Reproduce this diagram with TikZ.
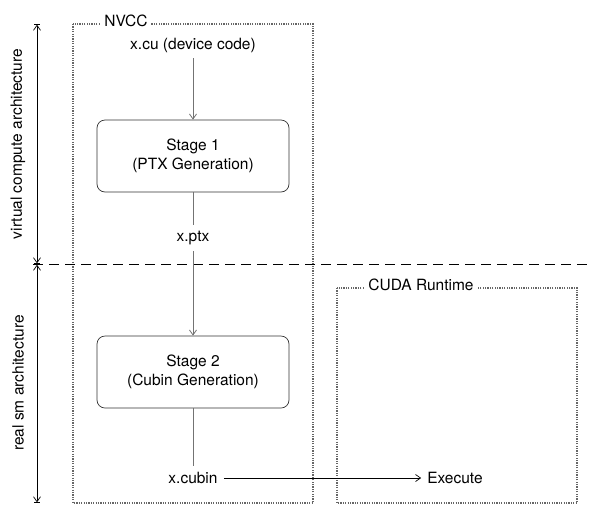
\documentclass[tikz,border=0pt]{standalone}
\usepackage{fontspec}
\setmainfont{TeX Gyre Heros}
\usetikzlibrary{arrows.meta,positioning}

\begin{document}
\begin{tikzpicture}[x=1pt,y=-1pt,
      every node/.style={font=\fontsize{15.5}{19}\selectfont},
      lbl/.style={inner sep=6pt},
      stagebox/.style={draw=black!80,rounded corners=8pt,line width=0.7pt,
        minimum width=192pt,minimum height=72pt,align=center},
      groupbox/.style={draw=black!60,dash pattern=on 1.2pt off 1.2pt,line width=1.1pt},
      grouptitle/.style={fill=white,inner sep=3pt},
      flow/.style={draw=black!55,line width=0.8pt},
      >={Straight Barb[length=5pt,width=7pt]}]
    \useasboundingbox (0,0) rectangle (601,528);
    % the two groups
    \draw[groupbox] (73,24) rectangle (313,503);
    \node[grouptitle] (nvcc) at (126,21) {NVCC};
    \draw[groupbox] (337,288) rectangle (577,503);
    \node[grouptitle] (rt) at (421,285) {CUDA Runtime};
    % split between the two architectures
    \coordinate (splitl) at (33,264);
    \coordinate (splitr) at (587,264);
    \draw[dash pattern=on 10pt off 6pt,line width=0.8pt] (splitl) -- (splitr);
    % dimension arrows on the left
    \coordinate (dtop) at (37,24);
    \coordinate (dmid) at (37,264);
    \coordinate (dbot) at (37,503);
    \draw[|<->|,line width=0.7pt] (dtop) -- (dmid);
    \draw[|<->|,line width=0.7pt] (dmid) -- (dbot);
    \node[rotate=90] (virt) at (18,144) {virtual compute architecture};
    \node[rotate=90] (real) at (18,383) {real sm architecture};
    % compile flow
    \node[lbl] (cu) at (193,45) {x.cu (device code)};
    \node[stagebox] (s1) at (193,156) {Stage 1\\(PTX Generation)};
    \node[lbl] (ptx) at (193,238) {x.ptx};
    \node[stagebox] (s2) at (193,372) {Stage 2\\(Cubin Generation)};
    \node[lbl] (cubin) at (193,478) {x.cubin};
    \node[lbl] (exe) at (455,478) {Execute};
    \draw[flow,->] (cu) -- (s1);
    \draw[flow] (s1) -- (ptx);
    \draw[flow,->] (ptx) -- (s2);
    \draw[flow] (s2) -- (cubin);
    \draw[->,line width=0.7pt] (cubin) -- (exe);
  \end{tikzpicture}
\end{document}
